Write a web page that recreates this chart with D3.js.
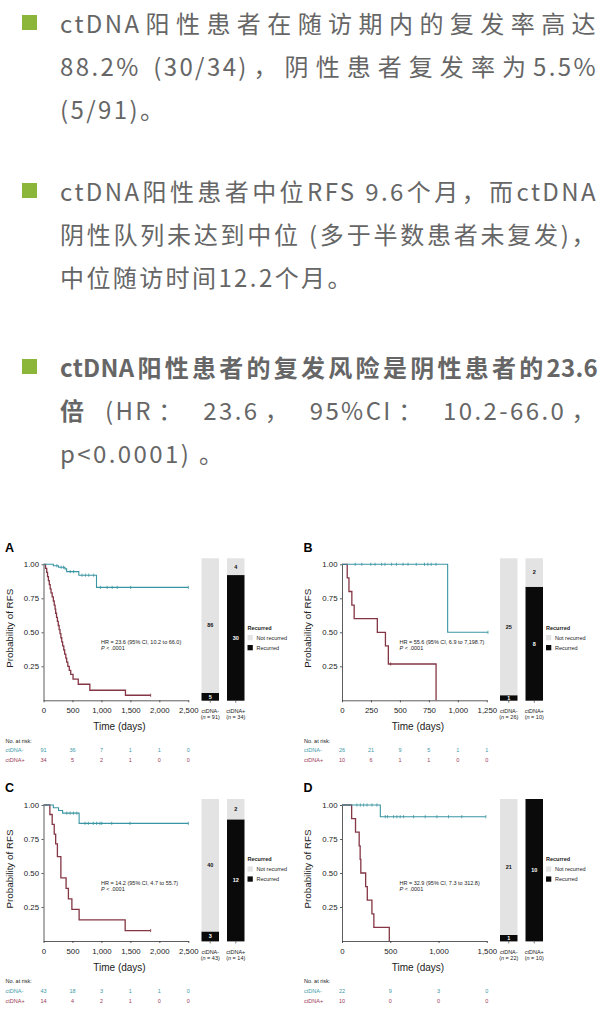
<!DOCTYPE html>
<html>
<head>
<meta charset="utf-8">
<script src="https://d3js.org/d3.v7.min.js"></script>
<style>
  body { margin: 0; background: #fff; width: 600px; height: 1010px; overflow: hidden; position: relative; }
  .line { position: absolute; left: 60px; width: 538px; height: 43px; line-height: 43px; white-space: nowrap;
          font-family: "Noto Sans CJK SC", sans-serif; font-size: 24px; letter-spacing: 2.4px; color: #666; }
  .just { text-align: justify; text-align-last: justify; }
  .tight { letter-spacing: 0.3px; }
  .bullet { position: absolute; left: 22px; width: 15px; height: 15px; background: #8cb63a; }
  svg { position: absolute; left: 0; top: 0; }
  svg text { font-family: "Liberation Sans", Arial, sans-serif; }
</style>
</head>
<body>
<script>
// ---- text block ----
const paraLines = [
  ["ctDNA阳性患者在随访期内的复发率高达", "88.2% (30/34)，阴性患者复发率为5.5%", "(5/91)。"],
  ["ctDNA阳性患者中位RFS 9.6个月，而ctDNA", "阴性队列未达到中位 (多于半数患者未复发)，", "中位随访时间12.2个月。"],
  ["ctDNA阳性患者的复发风险是阴性患者的23.6", "倍 (HR： 23.6， 95%CI： 10.2-66.0，", "p<0.0001) 。"]
];
const boldLead = [["", "", ""], ["", "", ""], ["ctDNA阳性患者的复发风险是阴性患者的23.6", "倍", ""]];

// ---- chart data ----
const panelNames = ["A", "B", "C", "D"];
const probTicks = [0.25, 0.5, 0.75, 1.0];
const timeTicksA = [0, 500, 1000, 1500, 2000, 2500];
const timeTicksB = [0, 250, 500, 750, 1000, 1250];
const timeTicksC = [0, 500, 1000, 1500, 2000, 2500];
const timeTicksD = [0, 500, 1000, 1500];

// [time (days), survival] steps
const negStepsA = [[0, 1], [170, 0.989], [260, 0.978], [370, 0.966], [400, 0.946], [610, 0.92], [915, 0.83], [2500, 0.83]];
const posStepsA = [[0, 1], [35, 0.97], [55, 0.94], [70, 0.91], [85, 0.88], [100, 0.85], [115, 0.82], [130, 0.79], [150, 0.76],
  [170, 0.73], [185, 0.70], [200, 0.67], [210, 0.64], [225, 0.61], [240, 0.58], [255, 0.55], [270, 0.52], [285, 0.49],
  [300, 0.46], [315, 0.43], [330, 0.40], [350, 0.37], [365, 0.34], [385, 0.31], [400, 0.28], [420, 0.25], [445, 0.22],
  [470, 0.19], [510, 0.155], [600, 0.118], [800, 0.074], [1415, 0.037], [1850, 0.037]];
const negStepsB = [[0, 1], [912, 0.5], [1260, 0.5]];
const posStepsB = [[0, 1], [45, 0.9], [60, 0.8], [85, 0.7], [105, 0.6], [305, 0.5], [375, 0.4], [400, 0.267], [812, 0]];
const negStepsC = [[0, 1], [170, 0.98], [260, 0.96], [330, 0.94], [615, 0.865], [2500, 0.865]];
const posStepsC = [[0, 1], [110, 0.93], [150, 0.857], [185, 0.786], [210, 0.714], [240, 0.62], [300, 0.464], [390, 0.387],
  [430, 0.31], [490, 0.232], [615, 0.155], [1410, 0.077], [1850, 0.077]];
const negStepsD = [[0, 1], [397, 0.914], [1490, 0.914]];
const posStepsD = [[0, 1], [100, 0.9], [140, 0.8], [178, 0.7], [188, 0.6], [195, 0.5], [245, 0.4], [262, 0.3], [310, 0.2], [330, 0.1], [490, 0]];

// censored times
const negCensA = [230, 305, 346, 462, 520, 665, 723, 781, 867, 983, 1099, 1186, 1273, 1505, 2500];
const posCensA = [1850];
const negCensB = [114, 171, 248, 285, 342, 371, 428, 470, 527, 570, 641, 712, 741, 770, 812, 1260];
const posCensB = [420];
const negCensC = [402, 460, 517, 575, 717, 774, 860, 917, 975, 1005, 1178, 1494, 2500];
const posCensC = [1850];
const negCensD = [155, 190, 224, 259, 310, 362, 448, 472, 534, 569, 603, 638, 741, 862, 983, 1103, 1241, 1490];
const posCensD = [];

// number at risk
const riskNegA = [91, 36, 7, 1, 1, 0], riskPosA = [34, 5, 2, 1, 0, 0];
const riskNegB = [26, 21, 9, 5, 1, 1], riskPosB = [10, 6, 1, 1, 0, 0];
const riskNegC = [43, 18, 3, 1, 1, 0], riskPosC = [14, 4, 2, 1, 0, 0];
const riskNegD = [22, 9, 3, 0], riskPosD = [10, 0, 0, 0];

// bars: ctDNA-, ctDNA+
const barGroups = ["ctDNA-", "ctDNA+"];
const notRecA = [86, 4], recA = [5, 30], nA = [91, 34];
const notRecB = [25, 2], recB = [1, 8], nB = [26, 10];
const notRecC = [40, 2], recC = [3, 12], nC = [43, 14];
const notRecD = [21, 0], recD = [1, 10], nD = [22, 10];

const hrA = "HR = 23.6 (95% CI, 10.2 to 66.0)";
const hrB = "HR = 55.6 (95% CI, 6.9 to 7,198.7)";
const hrC = "HR = 14.2 (95% CI, 4.7 to 55.7)";
const hrD = "HR = 32.9 (95% CI, 7.3 to 312.8)";

const negColor = "#3a95a2", posColor = "#843644";
const negText = "#3e9aa8", posText = "#9c3a57";

// ---- text ----
const lineCenters = [[22.5, 65.8, 108], [190, 233.3, 276.6], [366, 409.3, 452.6]];
paraLines.forEach((lines, pi) => {
  d3.select("body").append("div").attr("class", "bullet")
    .style("top", (lineCenters[pi][0] - 7.5) + "px");
  lines.forEach((txt, li) => {
    const b = boldLead[pi][li];
    const div = d3.select("body").append("div")
      .attr("class", "line" + (li < 2 ? " just" : "") + (b === txt ? " tight" : ""))
      .style("top", (lineCenters[pi][li] - 21.5) + "px");
    if (b) {
      div.append("span").style("font-weight", 700).text(b);
      div.append("span").text(txt.slice(b.length));
    } else {
      div.text(txt);
    }
  });
});

// ---- charts ----
const panels = [
  { ox: 0, oy: 0, xMax: 2500, ticks: timeTicksA, neg: negStepsA, pos: posStepsA, negCens: negCensA, posCens: posCensA,
    riskNeg: riskNegA, riskPos: riskPosA, notRec: notRecA, rec: recA, n: nA, hr: hrA, legendDy: 65.3 },
  { ox: 298.5, oy: 0, xMax: 1250, ticks: timeTicksB, neg: negStepsB, pos: posStepsB, negCens: negCensB, posCens: posCensB,
    riskNeg: riskNegB, riskPos: riskPosB, notRec: notRecB, rec: recB, n: nB, hr: hrB, legendDy: 65.3 },
  { ox: 0, oy: 240.7, xMax: 2500, ticks: timeTicksC, neg: negStepsC, pos: posStepsC, negCens: negCensC, posCens: posCensC,
    riskNeg: riskNegC, riskPos: riskPosC, notRec: notRecC, rec: recC, n: nC, hr: hrC, legendDy: 56 },
  { ox: 298.5, oy: 240.7, xMax: 1500, ticks: timeTicksD, neg: negStepsD, pos: posStepsD, negCens: negCensD, posCens: posCensD,
    riskNeg: riskNegD, riskPos: riskPosD, notRec: notRecD, rec: recD, n: nD, hr: hrD, legendDy: 56 }
];

function survAt(steps, t) {
  let s = 1;
  steps.forEach(d => { if (d[0] <= t) s = d[1]; });
  return s;
}

const svg = d3.select("body").append("svg").attr("width", 600).attr("height", 1010);
const Y1 = 564.3, Y0 = 700.3;

panels.forEach((p, i) => {
  const g = svg.append("g").attr("transform", `translate(${p.ox},${p.oy})`);
  const x = d3.scaleLinear().domain([0, p.xMax]).range([43.5, 188.3]);
  const y = d3.scaleLinear().domain([0, 1]).range([Y0, Y1]);

  g.append("text").attr("x", 5).attr("y", Y1 - 12.5)
    .attr("font-size", 12.5).attr("font-weight", 700).text(panelNames[i]);

  // axes
  const yAx = g.append("g").attr("transform", `translate(43.5,0)`)
    .call(d3.axisLeft(y).tickValues(probTicks).tickSize(2).tickSizeOuter(0).tickPadding(2.5).tickFormat(d3.format(".2f")));
  const xAx = g.append("g").attr("transform", `translate(0,${Y0})`)
    .call(d3.axisBottom(x).tickValues(p.ticks).tickSize(2).tickSizeOuter(0).tickPadding(5).tickFormat(d3.format(",")));
  [yAx, xAx].forEach(a => {
    a.attr("font-size", 7.8).attr("font-family", "Liberation Sans, Arial, sans-serif");
    a.selectAll("path, line").attr("stroke", "#333").attr("stroke-width", 0.8);
    a.selectAll("text").attr("fill", "#222");
  });

  g.append("text").attr("transform", `translate(12.5,${Y1 + 64}) rotate(-90)`)
    .attr("text-anchor", "middle").attr("font-size", 9.8).attr("fill", "#222").text("Probability of RFS");
  g.append("text").attr("x", 119.5).attr("y", Y0 + 30)
    .attr("text-anchor", "middle").attr("font-size", 10).attr("fill", "#222").text("Time (days)");

  // curves
  const line = d3.line().x(d => x(d[0])).y(d => y(d[1])).curve(d3.curveStepAfter);
  g.append("path").attr("d", line(p.pos)).attr("fill", "none").attr("stroke", posColor).attr("stroke-width", 1.3);
  g.append("path").attr("d", line(p.neg)).attr("fill", "none").attr("stroke", negColor).attr("stroke-width", 1.1);

  [[p.negCens, p.neg, negColor], [p.posCens, p.pos, posColor]].forEach(([cens, steps, col]) => {
    g.append("g").selectAll("line").data(cens).join("line")
      .attr("x1", d => x(d)).attr("x2", d => x(d))
      .attr("y1", d => y(survAt(steps, d)) - 1.6).attr("y2", d => y(survAt(steps, d)) + 1.6)
      .attr("stroke", col).attr("stroke-width", 0.8);
  });

  // HR text
  g.append("text").attr("x", 101).attr("y", Y1 + 79.8).attr("font-size", 5.5).attr("fill", "#222").text(p.hr);
  const pt = g.append("text").attr("x", 101).attr("y", Y1 + 85.6).attr("font-size", 5.5).attr("fill", "#222");
  pt.append("tspan").attr("font-style", "italic").text("P");
  pt.append("tspan").text(" < .0001");

  // stacked proportion bars
  const rows = barGroups.map((gname, k) => ({ group: gname, rec: p.rec[k], not: p.notRec[k], n: p.n[k] }));
  const stacked = d3.stack().keys(["rec", "not"]).offset(d3.stackOffsetExpand)(rows);
  const xb = d3.scaleBand().domain(barGroups).range([196.4, 249.6]).paddingInner(0.314).paddingOuter(0.2);
  const yb = d3.scaleLinear().domain([0, 1]).range([Y0 + 0.4, Y1 - 6]);
  const fills = { rec: "#0a0a0a", not: "#e3e3e3" };
  stacked.forEach(layer => {
    g.append("g").selectAll("rect").data(layer).join("rect")
      .attr("x", d => xb(d.data.group)).attr("width", xb.bandwidth())
      .attr("y", d => yb(d[1])).attr("height", d => yb(d[0]) - yb(d[1]))
      .attr("fill", fills[layer.key]);
    g.append("g").selectAll("text").data(layer.filter(d => d.data[layer.key] > 0)).join("text")
      .attr("x", d => xb(d.data.group) + xb.bandwidth() / 2)
      .attr("y", d => (yb(d[0]) + yb(d[1])) / 2 + 1.9)
      .attr("text-anchor", "middle").attr("font-size", 5.5).attr("font-weight", 700)
      .attr("fill", layer.key === "rec" ? "#fff" : "#111")
      .text(d => d.data[layer.key]);
  });
  const bAx = g.append("g").attr("transform", `translate(0,${Y0 + 0.4})`)
    .call(d3.axisBottom(xb).tickSize(2).tickFormat(""));
  bAx.select(".domain").remove();
  bAx.selectAll("line").attr("stroke", "#333").attr("stroke-width", 0.7);
  rows.forEach(r => {
    const cx = xb(r.group) + xb.bandwidth() / 2;
    g.append("text").attr("x", cx).attr("y", Y0 + 13).attr("text-anchor", "middle")
      .attr("font-size", 5.5).attr("fill", "#222").text(r.group);
    const t = g.append("text").attr("x", cx).attr("y", Y0 + 19).attr("text-anchor", "middle")
      .attr("font-size", 5.5).attr("fill", "#222");
    t.append("tspan").text("(");
    t.append("tspan").attr("font-style", "italic").text("n");
    t.append("tspan").text(` = ${r.n})`);
  });

  // legend
  const ly = Y1 + p.legendDy;
  g.append("text").attr("x", 247.5).attr("y", ly).attr("font-size", 5.5).attr("font-weight", 700)
    .attr("fill", "#222").text("Recurred");
  const items = [["Not recurred", fills.not], ["Recurred", fills.rec]];
  g.append("g").selectAll("rect").data(items).join("rect")
    .attr("x", 247.5).attr("y", (d, k) => ly + 5.4 + k * 10).attr("width", 5.3).attr("height", 5.3)
    .attr("fill", d => d[1]);
  g.append("g").selectAll("text").data(items).join("text")
    .attr("x", 256.5).attr("y", (d, k) => ly + 10 + k * 10).attr("font-size", 5.5).attr("fill", "#222")
    .text(d => d[0]);

  // number at risk table
  g.append("text").attr("x", 5.5).attr("y", Y0 + 42.2).attr("font-size", 5.5).attr("fill", "#222").text("No. at risk:");
  [["ctDNA-", p.riskNeg, negText, 51.7], ["ctDNA+", p.riskPos, posText, 61.7]].forEach(([lab, vals, col, dy]) => {
    g.append("text").attr("x", 5.5).attr("y", Y0 + dy).attr("font-size", 5.5).attr("fill", col).text(lab);
    g.append("g").selectAll("text").data(p.ticks).join("text")
      .attr("x", d => x(d)).attr("y", Y0 + dy).attr("text-anchor", "middle")
      .attr("font-size", 5.5).attr("fill", col).text((d, k) => vals[k]);
  });
});
</script>
</body>
</html>
